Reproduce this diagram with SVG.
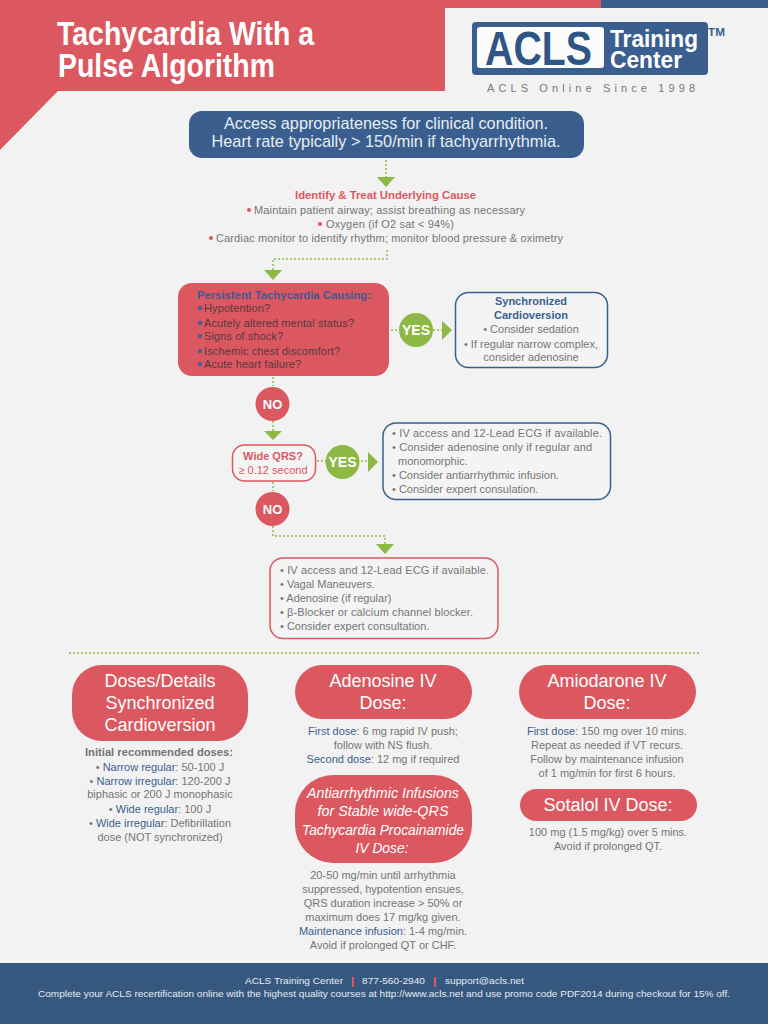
<svg xmlns="http://www.w3.org/2000/svg" width="768" height="1024" viewBox="0 0 768 1024">
<style>
text{font-family:"Liberation Sans",Arial,sans-serif;fill:#757575;font-size:11px}
.m{text-anchor:middle}
.r{fill:#dc5860}
.b{fill:#3a5f8f}
.w{fill:#fff}
.hb{font-weight:bold}
.h{font-size:18px;fill:#fff;text-anchor:middle}
.i{font-size:15.500px;font-style:italic;fill:#fff;text-anchor:middle}
.t{font-size:33px;font-weight:bold;fill:#fff}
.d{fill:none;stroke:#8fbc4c;stroke-width:1.500;stroke-dasharray:2 2}
.a{fill:#8cb843}
.lbl{font-size:14px;font-weight:bold;fill:#fff;text-anchor:middle}
.f{font-size:9.500px;fill:#e6ebf2}
.box{fill:#f4f4f4;stroke-width:1.500}
.p{fill:#56383e}
</style>
<rect width="768" height="1024" fill="#f2f2f2"/>
<g id="banner">
<polygon points="0,0 601,0 601,8 445,8 445,91 58,91 0,150" fill="#dc5860"/>
<rect x="601" width="167" height="8" fill="#3a5f8f"/>
<text class="t" x="57" y="45" textLength="257" lengthAdjust="spacingAndGlyphs">Tachycardia With a</text>
<text class="t" x="58" y="77" textLength="217" lengthAdjust="spacingAndGlyphs">Pulse Algorithm</text>
</g>
<g id="logo">
<rect x="472" y="22" width="236" height="53" rx="4" fill="#3a5f8f"/>
<rect x="477" y="27" width="127" height="41" rx="3" fill="#fbfbfb"/>
<text x="485" y="65" textLength="107" lengthAdjust="spacingAndGlyphs" style="font-size:48px;font-weight:bold;fill:#2f5587">ACLS</text>
<text x="610" y="47" textLength="88" lengthAdjust="spacingAndGlyphs" style="font-size:23px;font-weight:bold;fill:#fff">Training</text>
<text x="610" y="68" textLength="72" lengthAdjust="spacingAndGlyphs" style="font-size:23px;font-weight:bold;fill:#fff">Center</text>
<text x="708" y="36" textLength="17" lengthAdjust="spacingAndGlyphs" style="font-size:11px;font-weight:bold;fill:#3a5f8f">TM</text>
<text x="487" y="92" textLength="208" style="font-size:11px;fill:#777">ACLS Online Since 1998</text>
</g>
<g id="connectors">
<path class="d" d="M386 160V177"/>
<polygon class="a" points="377,177 395,177 386,187"/>
<path class="d" d="M387 250V259H273V270"/>
<polygon class="a" points="264,270 282,270 273,280"/>
<path class="d" d="M391 330H399M433 330H442"/>
<polygon class="a" points="442,321 452,330 442,340"/>
<path class="d" d="M273 377V386M273 421V431"/>
<polygon class="a" points="264,431 282,431 273,440"/>
<path class="d" d="M273 482V491"/>
<path class="d" d="M317 461H326M361 461H368"/>
<polygon class="a" points="368,452 378,462 368,472"/>
<path class="d" d="M273 526V536H385V544"/>
<polygon class="a" points="376,544 394,544 385,554"/>
<path class="d" d="M69 653H699"/>
</g>
<g id="access">
<rect x="189" y="111" width="395" height="47" rx="13" fill="#3a5f8f"/>
<text class="m" x="386" y="129" textLength="324" lengthAdjust="spacingAndGlyphs" style="font-size:17px;fill:#e8edf3">Access appropriateness for clinical condition.</text>
<text class="m" x="386" y="147" textLength="349" lengthAdjust="spacingAndGlyphs" style="font-size:17px;fill:#e8edf3">Heart rate typically &gt; 150/min if tachyarrhythmia.</text>
</g>
<g id="identify">
<text class="hb r" x="295" y="199" textLength="181" lengthAdjust="spacingAndGlyphs">Identify &amp; Treat Underlying Cause</text>
<circle class="r" cx="249" cy="210" r="2"/><text x="254" y="214" textLength="271">Maintain patient airway; assist breathing as necessary</text>
<circle class="r" cx="320" cy="224" r="2"/><text x="326" y="228" textLength="128">Oxygen (if O2 sat &lt; 94%)</text>
<circle class="r" cx="211" cy="238" r="2"/><text x="216" y="242" textLength="347">Cardiac monitor to identify rhythm; monitor blood pressure &amp; oximetry</text>
</g>
<g id="persistent">
<rect x="178" y="283" width="211" height="93" rx="14" fill="#dc5860"/>
<text class="hb" x="197" y="299" textLength="174" lengthAdjust="spacingAndGlyphs" style="fill:#3f5a92">Persistent Tachycardia Causing:</text>
<circle cx="200" cy="308" r="2.200" fill="#4a5f8f"/><circle cx="200" cy="323" r="2.200" fill="#4a5f8f"/><circle cx="200" cy="336" r="2.200" fill="#4a5f8f"/><circle cx="200" cy="351" r="2.200" fill="#4a5f8f"/><circle cx="200" cy="364" r="2.200" fill="#4a5f8f"/>
<text class="p" x="204" y="312" textLength="66">Hypotention?</text>
<text class="p" x="204" y="327" textLength="150">Acutely altered mental status?</text>
<text class="p" x="204" y="340" textLength="79">Signs of shock?</text>
<text class="p" x="204" y="355" textLength="136">Ischemic chest discomfort?</text>
<text class="p" x="204" y="368" textLength="97">Acute heart failure?</text>
</g>
<g id="yes1"><circle class="a" cx="416" cy="330" r="17"/><text class="lbl" x="416" y="335">YES</text></g>
<g id="sync">
<rect class="box" x="455.500" y="292.500" width="152" height="75" rx="13" stroke="#3a5f8f"/>
<text class="m hb b" x="531" y="305">Synchronized</text>
<text class="m hb b" x="531" y="319">Cardioversion</text>
<text class="m" x="531" y="333">• Consider sedation</text>
<text class="m" x="531" y="348">• If regular narrow complex,</text>
<text class="m" x="531" y="361">consider adenosine</text>
</g>
<g id="no1"><circle class="r" cx="272.500" cy="404" r="17"/><text class="lbl" x="272.500" y="409" style="font-size:13px">NO</text></g>
<g id="wide">
<rect class="box" x="232.500" y="445" width="83" height="36" rx="12" stroke="#dc5860"/>
<text class="m hb r" x="273" y="460">Wide QRS?</text>
<text class="m r" x="273" y="474">≥ 0.12 second</text>
</g>
<g id="yes2"><circle class="a" cx="342.500" cy="462" r="17"/><text class="lbl" x="342.500" y="467">YES</text></g>
<g id="iv1">
<rect class="box" x="383" y="423" width="227.500" height="76.500" rx="13" stroke="#3a5f8f"/>
<text x="392" y="437" textLength="210">• IV access and 12-Lead ECG if available.</text>
<text x="392" y="451" textLength="200">• Consider adenosine only if regular and</text>
<text x="398" y="465">monomorphic.</text>
<text x="392" y="479">• Consider antiarrhythmic infusion.</text>
<text x="392" y="493">• Consider expert consulation.</text>
</g>
<g id="no2"><circle class="r" cx="272.500" cy="509" r="17"/><text class="lbl" x="272.500" y="514" style="font-size:13px">NO</text></g>
<g id="iv2">
<rect class="box" x="270" y="558" width="228" height="80.500" rx="13" stroke="#dc5860"/>
<text x="280" y="574" textLength="209">• IV access and 12-Lead ECG if available.</text>
<text x="280" y="588">• Vagal Maneuvers.</text>
<text x="280" y="602">• Adenosine (if regular)</text>
<text x="280" y="616" textLength="193">• β-Blocker or calcium channel blocker.</text>
<text x="280" y="630">• Consider expert consultation.</text>
</g>
<g id="doses-sync">
<rect x="72" y="665" width="176" height="76" rx="30" class="r"/>
<text class="h" x="160" y="687">Doses/Details</text>
<text class="h" x="160" y="709">Synchronized</text>
<text class="h" x="160" y="731">Cardioversion</text>
<text class="m hb" x="159" y="756" textLength="148" lengthAdjust="spacingAndGlyphs">Initial recommended doses:</text>
<text class="m" x="160" y="771">• <tspan class="b">Narrow regular</tspan>: 50-100 J</text>
<text class="m" x="160" y="785">• <tspan class="b">Narrow irregular</tspan>: 120-200 J</text>
<text class="m" x="160" y="798">biphasic or 200 J monophasic</text>
<text class="m" x="160" y="813">• <tspan class="b">Wide regular</tspan>: 100 J</text>
<text class="m" x="160" y="827">• <tspan class="b">Wide irregular</tspan>: Defibrillation</text>
<text class="m" x="160" y="841">dose (NOT synchronized)</text>
</g>
<g id="adenosine">
<rect x="295" y="665" width="177" height="54" rx="27" class="r"/>
<text class="h" x="383" y="687">Adenosine IV</text>
<text class="h" x="383" y="709">Dose:</text>
<text class="m" x="383" y="735"><tspan class="b">First dose</tspan>: 6 mg rapid IV push;</text>
<text class="m" x="383" y="749">follow with NS flush.</text>
<text class="m" x="383" y="763"><tspan class="b">Second dose</tspan>: 12 mg if required</text>
</g>
<g id="antiarrhythmic">
<rect x="295" y="775" width="177" height="88" rx="38" class="r"/>
<text class="i" x="383" y="798" textLength="152" lengthAdjust="spacingAndGlyphs">Antiarrhythmic Infusions</text>
<text class="i" x="383" y="816" textLength="131" lengthAdjust="spacingAndGlyphs">for Stable wide-QRS</text>
<text class="i" x="383" y="835" textLength="162" lengthAdjust="spacingAndGlyphs">Tachycardia Procainamide</text>
<text class="i" x="382" y="853" textLength="53" lengthAdjust="spacingAndGlyphs">IV Dose:</text>
<text class="m" x="383" y="879">20-50 mg/min until arrhythmia</text>
<text class="m" x="383" y="893">suppressed, hypotention ensues,</text>
<text class="m" x="383" y="907">QRS duration increase &gt; 50% or</text>
<text class="m" x="383" y="921">maximum does 17 mg/kg given.</text>
<text class="m" x="383" y="935"><tspan class="b">Maintenance infusion</tspan>: 1-4 mg/min.</text>
<text class="m" x="383" y="949">Avoid if prolonged QT or CHF.</text>
</g>
<g id="amiodarone">
<rect x="519" y="665" width="177" height="54" rx="27" class="r"/>
<text class="h" x="607" y="687">Amiodarone IV</text>
<text class="h" x="607" y="709">Dose:</text>
<text class="m" x="607" y="735"><tspan class="b">First dose</tspan>: 150 mg over 10 mins.</text>
<text class="m" x="607" y="749">Repeat as needed if VT recurs.</text>
<text class="m" x="607" y="763">Follow by maintenance infusion</text>
<text class="m" x="607" y="777">of 1 mg/min for first 6 hours.</text>
</g>
<g id="sotalol">
<rect x="520" y="789" width="177" height="32" rx="16" class="r"/>
<text class="h" x="608" y="811">Sotalol IV Dose:</text>
<text class="m" x="608" y="836">100 mg (1.5 mg/kg) over 5 mins.</text>
<text class="m" x="608" y="850">Avoid if prolonged QT.</text>
</g>
<g id="footer">
<rect y="963" width="768" height="61" fill="#36587f"/>
<text class="f" x="245" y="984" textLength="98" lengthAdjust="spacingAndGlyphs">ACLS Training Center</text>
<rect x="352" y="977" width="2" height="10" class="r"/>
<text class="f" x="362" y="984" textLength="63" lengthAdjust="spacingAndGlyphs">877-560-2940</text>
<rect x="434" y="977" width="2" height="10" class="r"/>
<text class="f" x="445" y="984" textLength="79" lengthAdjust="spacingAndGlyphs">support@acls.net</text>
<text class="f" x="38" y="997" textLength="692" lengthAdjust="spacingAndGlyphs">Complete your ACLS recertification online with the highest quality courses at http://www.acls.net and use promo code PDF2014 during checkout for 15% off.</text>
</g>
</svg>
